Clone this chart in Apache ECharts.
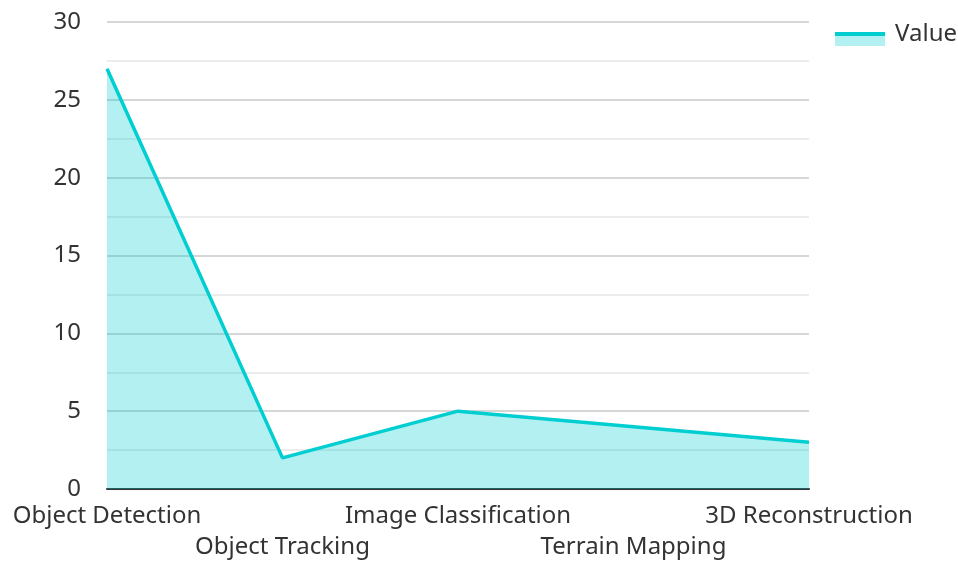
<!DOCTYPE html>
<html><head><meta charset="utf-8">
<script src="https://cdn.jsdelivr.net/npm/echarts@6/dist/echarts.min.js"></script>
<style>html,body{margin:0;padding:0;background:#fff}#c{width:958px;height:563px}</style>
</head><body><div id="c"></div>
<script>
var categories = ['Object Detection', 'Object Tracking', 'Image Classification', 'Terrain Mapping', '3D Reconstruction'];
var values = [27, 2, 5, 4, 3];
var seriesName = 'Value';

var iconSvg = '<svg xmlns="http://www.w3.org/2000/svg" width="55" height="24">' +
  '<rect x="0" y="13" width="50" height="11" fill="#00CED1" fill-opacity="0.3"/>' +
  '<rect x="0" y="10" width="50" height="4" fill="#00CED1"/></svg>';
var iconUri = 'image://data:image/svg+xml;charset=utf-8,' + encodeURIComponent(iconSvg);

var chart = echarts.init(document.getElementById('c'), null, {renderer: 'canvas'});
chart.setOption({
  animation: false,
  textStyle: {fontFamily: 'Noto Sans'},
  legend: {
    right: 1, top: 22, padding: 0, itemWidth: 55, itemHeight: 24, itemGap: 10,
    textStyle: {fontSize: 24, color: '#333', fontFamily: 'Noto Sans'},
    data: [{name: seriesName, icon: iconUri}]
  },
  grid: {left: 107, right: 149, top: 22, bottom: 74, containLabel: false},
  xAxis: {
    type: 'category', data: categories, boundaryGap: false,
    axisLine: {lineStyle: {color: '#333', width: 2}},
    axisTick: {show: false},
    axisLabel: {
      interval: 0, color: '#333', fontSize: 24, fontFamily: 'Noto Sans', margin: 12, lineHeight: 31,
      formatter: function (v, i) { return i % 2 === 1 ? '\n' + v : v; }
    }
  },
  yAxis: {
    type: 'value', min: 0, max: 30, interval: 5,
    axisLine: {show: false}, axisTick: {show: false},
    axisLabel: {color: '#333', fontSize: 24, fontFamily: 'Noto Sans', margin: 26},
    splitLine: {lineStyle: {color: '#c8c8c8', width: 1.5}},
    minorTick: {show: false, splitNumber: 2},
    minorSplitLine: {show: true, lineStyle: {color: '#e6e6e6', width: 1.5}}
  },
  series: [{
    name: seriesName, type: 'line', data: values,
    symbol: 'none',
    lineStyle: {color: '#00CED1', width: 3.5},
    itemStyle: {color: '#00CED1'},
    areaStyle: {color: '#00CED1', opacity: 0.3}
  }]
});
</script></body></html>
